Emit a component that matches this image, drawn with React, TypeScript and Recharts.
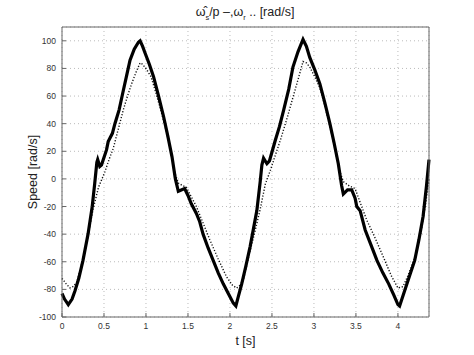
import { LineChart, Line, XAxis, YAxis, CartesianGrid } from "recharts";

// estimated speed ω̂s/p (solid)
const solidT = [
  0, 0.03, 0.075, 0.12, 0.155, 0.2, 0.25, 0.31, 0.36, 0.39, 0.415, 0.425, 0.45, 0.47, 0.53, 0.55, 0.6, 0.63,
  0.68, 0.73, 0.77, 0.81, 0.86, 0.91, 0.93, 0.96, 0.99, 1.04, 1.09, 1.15, 1.21, 1.26, 1.31, 1.35, 1.385, 1.42,
  1.46, 1.5, 1.54, 1.6, 1.64, 1.68, 1.74, 1.8, 1.86, 1.92, 1.98, 2.04, 2.07, 2.1, 2.14, 2.19, 2.24, 2.28, 2.32,
  2.36, 2.38, 2.4, 2.44, 2.47, 2.54, 2.59, 2.64, 2.7, 2.75, 2.81, 2.87, 2.91, 2.95, 3.01, 3.07, 3.13, 3.19, 3.24,
  3.29, 3.33, 3.35, 3.4, 3.45, 3.49, 3.51, 3.55, 3.61, 3.68, 3.75, 3.82, 3.89, 3.95, 4.0, 4.02, 4.08, 4.14, 4.2,
  4.25, 4.3, 4.34, 4.37,
];
const solidV = [
  -83, -87, -91, -87, -81, -72, -59, -40, -20, -3, 12, 14, 9, 10, 21, 27, 33, 40, 50, 64, 75, 86, 94, 99, 100,
  96, 91, 83, 74, 60, 45, 31, 16, 0, -9, -8, -7, -12, -18, -25, -31, -40, -50, -59, -68, -76, -83, -90, -92, -85,
  -76, -63, -49, -36, -23, -2, 10, 15, 11, 13, 28, 38, 50, 65, 81, 92, 101, 96, 88, 79, 69, 55, 40, 26, 11, -5,
  -11, -8, -8, -14, -20, -23, -37, -48, -59, -68, -76, -84, -91, -92, -81, -70, -59, -44, -27, -5, 14,
];

// rotor speed ωr (dotted)
const dottedT = [
  0, 0.05, 0.095, 0.13, 0.175, 0.22, 0.27, 0.32, 0.37, 0.435, 0.51, 0.56, 0.61, 0.67, 0.73, 0.78, 0.83, 0.88,
  0.93, 0.96, 1.01, 1.06, 1.12, 1.18, 1.24, 1.3, 1.34, 1.385, 1.44, 1.48, 1.54, 1.6, 1.68, 1.76, 1.86, 1.96,
  2.03, 2.08, 2.12, 2.16, 2.22, 2.29, 2.36, 2.42, 2.48, 2.55, 2.6, 2.68, 2.75, 2.82, 2.87, 2.91, 2.95, 3.01,
  3.07, 3.13, 3.19, 3.25, 3.3, 3.35, 3.42, 3.49, 3.55, 3.63, 3.73, 3.83, 3.92, 4.0, 4.06, 4.12, 4.2, 4.27, 4.33,
  4.37,
];
const dottedV = [
  -72, -76, -79, -78, -75, -65, -53, -38, -22, -6, 5, 14, 22, 36, 50, 60, 69, 77, 84, 83, 79, 74, 62, 49, 35,
  19, 5, -3, -5, -6, -13, -20, -32, -44, -58, -71, -77, -79, -77, -73, -57, -40, -22, -4, 6, 19, 28, 44, 59, 74,
  85, 84, 81, 74, 66, 53, 38, 22, 7, -2, -5, -7, -17, -30, -43, -57, -70, -79, -78, -70, -57, -40, -18, 0,
];

const xTicks = [0, 0.5, 1, 1.5, 2, 2.5, 3, 3.5, 4];
const yTicks = [-100, -80, -60, -40, -20, 0, 20, 40, 60, 80, 100];

const solid = solidT.map((t, i) => ({ t, v: solidV[i] }));
const dotted = dottedT.map((t, i) => ({ t, v: dottedV[i] }));

const font = "'Liberation Sans', Arial, sans-serif";
const tickStyle = { fontSize: 8.5, fill: "#333", fontFamily: font };
const axisColor = "#666";

export default function App() {
  return (
    <div style={{ position: "absolute", left: 0, top: 0, width: 474, height: 355, background: "#fff" }}>
      <div
        style={{
          position: "absolute",
          left: 0,
          width: 490,
          top: 5,
          textAlign: "center",
          fontFamily: font,
          fontSize: 12.5,
          color: "#222",
        }}
      >
        ω̂<sub style={{ fontSize: 7.5 }}>s</sub>/p –,ω<sub style={{ fontSize: 7.5 }}>r</sub> .. [rad/s]
      </div>
      <LineChart width={474} height={355} margin={{ top: 22, right: 40, bottom: 6, left: 17 }}>
        <CartesianGrid stroke="#bbb" strokeDasharray="1 3" />
        <XAxis
          dataKey="t"
          type="number"
          domain={[0, 4.37]}
          ticks={xTicks}
          height={32}
          stroke={axisColor}
          tickSize={-4}
          tickMargin={10}
          tick={tickStyle}
          label={{ value: "t [s]", position: "insideBottom", offset: 4, fontSize: 12.5, fill: "#222", fontFamily: font }}
        />
        <XAxis
          xAxisId="top"
          orientation="top"
          dataKey="t"
          type="number"
          domain={[0, 4.37]}
          ticks={xTicks}
          height={5}
          stroke={axisColor}
          tickSize={-4}
          tickFormatter={() => ""}
        />
        <YAxis
          type="number"
          domain={[-100, 110]}
          ticks={yTicks}
          width={45}
          stroke={axisColor}
          tickSize={-4}
          tickMargin={10}
          tick={tickStyle}
          label={{
            value: "Speed [rad/s]",
            angle: -90,
            position: "insideLeft",
            offset: 16,
            fontSize: 12.5,
            fill: "#222",
            fontFamily: font,
            style: { textAnchor: "middle" },
          }}
        />
        <YAxis
          yAxisId="right"
          orientation="right"
          type="number"
          domain={[-100, 110]}
          ticks={yTicks}
          width={5}
          stroke={axisColor}
          tickSize={-4}
          tickFormatter={() => ""}
        />
        <Line
          data={dotted}
          dataKey="v"
          type="linear"
          stroke="#111"
          strokeWidth={1.4}
          strokeDasharray="1.2 1.8"
          dot={false}
          isAnimationActive={false}
        />
        <Line
          data={solid}
          dataKey="v"
          type="linear"
          stroke="#000"
          strokeWidth={3.2}
          dot={false}
          isAnimationActive={false}
        />
      </LineChart>
    </div>
  );
}
